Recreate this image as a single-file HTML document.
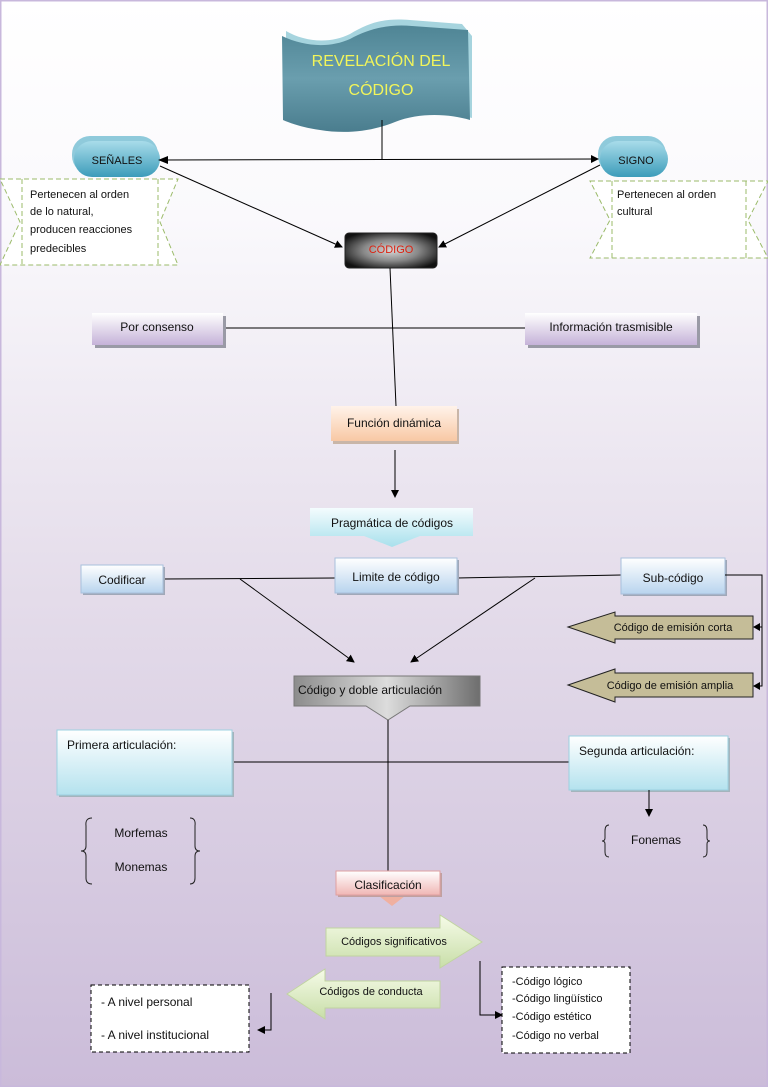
<!DOCTYPE html>
<html><head><meta charset="utf-8"><style>
html,body{margin:0;padding:0}
body{width:768px;height:1087px;overflow:hidden;font-family:"Liberation Sans",sans-serif}
svg text{font-family:"Liberation Sans",sans-serif}
</style></head><body>
<svg width="768" height="1087" viewBox="0 0 768 1087" xmlns="http://www.w3.org/2000/svg">
<defs>
<linearGradient id="bg" x1="0" y1="0" x2="0" y2="1">
<stop offset="0" stop-color="#ffffff"/><stop offset="0.2" stop-color="#faf9fc"/><stop offset="0.55" stop-color="#e4dcea"/><stop offset="1" stop-color="#cbbcd9"/></linearGradient>
<linearGradient id="ban" x1="0" y1="0" x2="0" y2="1"><stop offset="0" stop-color="#4f8595"/><stop offset="0.5" stop-color="#6a9eae"/><stop offset="1" stop-color="#4a7d8e"/></linearGradient>
<linearGradient id="pill" x1="0" y1="0" x2="0" y2="1"><stop offset="0" stop-color="#a8dcea"/><stop offset="1" stop-color="#3c9cba"/></linearGradient>
<radialGradient id="blk" cx="0.5" cy="0.5" r="0.6"><stop offset="0" stop-color="#d8d8d8"/><stop offset="0.5" stop-color="#888"/><stop offset="1" stop-color="#111"/></radialGradient>
<linearGradient id="pur" x1="0" y1="0" x2="0" y2="1"><stop offset="0" stop-color="#ffffff"/><stop offset="1" stop-color="#c5b2d8"/></linearGradient>
<linearGradient id="peach" x1="0" y1="0" x2="0" y2="1"><stop offset="0" stop-color="#fff3ea"/><stop offset="1" stop-color="#f8c8a4"/></linearGradient>
<linearGradient id="cyan" x1="0" y1="0" x2="0" y2="1"><stop offset="0" stop-color="#f4fcfe"/><stop offset="1" stop-color="#a8e0ec"/></linearGradient>
<linearGradient id="blu" x1="0" y1="0" x2="0" y2="1"><stop offset="0" stop-color="#ffffff"/><stop offset="1" stop-color="#b8d4ee"/></linearGradient>
<linearGradient id="gry" x1="0" y1="0" x2="1" y2="0"><stop offset="0" stop-color="#8c8c8c"/><stop offset="0.5" stop-color="#dcdcdc"/><stop offset="1" stop-color="#6e6e6e"/></linearGradient>
<linearGradient id="lb" x1="0" y1="0" x2="0" y2="1"><stop offset="0" stop-color="#ffffff"/><stop offset="1" stop-color="#b4e2ee"/></linearGradient>
<linearGradient id="pink" x1="0" y1="0" x2="0" y2="1"><stop offset="0" stop-color="#ffffff"/><stop offset="1" stop-color="#f0b6b4"/></linearGradient>
<linearGradient id="grn" x1="0" y1="0" x2="0" y2="1"><stop offset="0" stop-color="#f6fbe8"/><stop offset="1" stop-color="#c8dea8"/></linearGradient>
<marker id="ar" markerWidth="8" markerHeight="8" refX="7" refY="4" orient="auto" markerUnits="userSpaceOnUse"><path d="M0,0 L8,4 L0,8 z" fill="#000"/></marker>
</defs>
<rect x="0" y="0" width="768" height="1087" fill="url(#bg)"/>
<rect x="0.5" y="0.5" width="767" height="1086" fill="none" stroke="#c8b8dc" stroke-width="2"/>

<path d="M286,31 C305,42 330,44 350,34 C370,22 385,18 410,20 L462,24 L472,36 L472,118 C450,112 420,108 395,118 C370,128 345,130 320,126 C305,124 292,120 286,118 Z" fill="#a6d4de"/>
<path d="M282,36 C305,47 330,48 350,39 C370,28 390,24 412,26 L468,30 L470,120 C450,114 420,112 395,122 C370,132 345,134 320,130 C305,128 292,124 283,120 Z" fill="url(#ban)"/>
<text x="381" y="66" font-size="16" fill="#f2f55a" text-anchor="middle">REVELACIÓN DEL</text>
<text x="381" y="95" font-size="16" fill="#f2f55a" text-anchor="middle">CÓDIGO</text>
<line x1="382" y1="120" x2="382" y2="160" stroke="#000"/>

<rect x="72" y="136" width="86" height="38" rx="18" fill="#8fcadb"/>
<rect x="74" y="141" width="86" height="36" rx="18" fill="url(#pill)"/>
<text x="117" y="164" font-size="11" fill="#111" text-anchor="middle">SEÑALES</text>
<rect x="598" y="136" width="68" height="38" rx="18" fill="#8fcadb"/>
<rect x="600" y="141" width="68" height="36" rx="18" fill="url(#pill)"/>
<text x="636" y="164" font-size="11" fill="#111" text-anchor="middle">SIGNO</text>
<line x1="162" y1="160" x2="598" y2="159" stroke="#000" marker-end="url(#ar)"/>
<path d="M158,160 L168,156 L168,164 z" fill="#000"/>

<g fill="none" stroke="#9bbb6a" stroke-dasharray="5,3">
<path d="M0,179 L178,179 L160,222 L178,265 L0,265 L20,222 Z" fill="#fff"/>
<line x1="22" y1="179" x2="22" y2="265"/><line x1="158" y1="179" x2="158" y2="265"/>
<path d="M590,181 L768,181 L748,220 L768,258 L590,258 L610,220 Z" fill="#fff"/>
<line x1="612" y1="181" x2="612" y2="258"/><line x1="746" y1="181" x2="746" y2="258"/>
</g>
<g font-size="11" fill="#111">
<text x="30" y="198">Pertenecen al orden</text>
<text x="30" y="215">de lo natural,</text>
<text x="30" y="233">producen reacciones</text>
<text x="30" y="252">predecibles</text>
<text x="617" y="198">Pertenecen al orden</text>
<text x="617" y="215">cultural</text>
</g>

<line x1="160" y1="166" x2="342" y2="247" stroke="#000" marker-end="url(#ar)"/>
<line x1="600" y1="165" x2="439" y2="247" stroke="#000" marker-end="url(#ar)"/>
<rect x="345" y="233" width="92" height="35" rx="4" fill="url(#blk)" stroke="#222"/>
<text x="391" y="253" font-size="11" fill="#d21" text-anchor="middle">CÓDIGO</text>
<line x1="390" y1="268" x2="396" y2="406" stroke="#000"/>

<line x1="223" y1="328" x2="525" y2="328" stroke="#000"/>
<rect x="95" y="316" width="131" height="32" fill="#9a9aa6"/>
<rect x="92" y="313" width="131" height="32" fill="url(#pur)"/>
<text x="157" y="331" font-size="12" fill="#111" text-anchor="middle">Por consenso</text>
<rect x="528" y="316" width="172" height="32" fill="#9a9aa6"/>
<rect x="525" y="313" width="172" height="32" fill="url(#pur)"/>
<text x="611" y="331" font-size="12" fill="#111" text-anchor="middle">Información trasmisible</text>

<rect x="333" y="409" width="126" height="35" fill="#c9b6a8"/>
<rect x="331" y="406" width="126" height="35" fill="url(#peach)"/>
<text x="394" y="427" font-size="12" fill="#111" text-anchor="middle">Función dinámica</text>
<line x1="395" y1="450" x2="395" y2="497" stroke="#000" marker-end="url(#ar)"/>

<path d="M310,508 L473,508 L473,536 L420,536 L392,547 L364,536 L310,536 Z" fill="url(#cyan)"/>
<text x="392" y="527" font-size="12" fill="#111" text-anchor="middle">Pragmática de códigos</text>

<line x1="163" y1="579" x2="335" y2="578" stroke="#000"/>
<line x1="457" y1="578" x2="621" y2="575" stroke="#000"/>
<line x1="240" y1="579" x2="354" y2="662" stroke="#000" marker-end="url(#ar)"/>
<line x1="535" y1="578" x2="411" y2="662" stroke="#000" marker-end="url(#ar)"/>
<rect x="83" y="567" width="82" height="28" fill="#a0a8b8"/>
<rect x="81" y="565" width="82" height="28" fill="url(#blu)" stroke="#a8c0dc"/>
<text x="122" y="584" font-size="12" fill="#111" text-anchor="middle">Codificar</text>
<rect x="337" y="560" width="122" height="35" fill="#a0a8b8"/>
<rect x="335" y="558" width="122" height="35" fill="url(#blu)" stroke="#a8c0dc"/>
<text x="396" y="581" font-size="12" fill="#111" text-anchor="middle">Limite de código</text>
<rect x="623" y="560" width="104" height="36" fill="#a0a8b8"/>
<rect x="621" y="558" width="104" height="36" fill="url(#blu)" stroke="#a8c0dc"/>
<text x="673" y="582" font-size="12" fill="#111" text-anchor="middle">Sub-código</text>
<polyline points="725,575 762,575 762,686 755,686" fill="none" stroke="#000"/>
<line x1="762" y1="627" x2="755" y2="627" stroke="#000"/>
<path d="M753,627 L760,623 L760,631 z" fill="#000"/>
<path d="M753,686 L760,682 L760,690 z" fill="#000"/>

<path d="M568,627 L615,612 L615,616 L753,616 L753,639 L615,639 L615,643 Z" fill="#c5bd98" stroke="#222"/>
<text x="673" y="631" font-size="11" fill="#111" text-anchor="middle">Código de emisión corta</text>
<path d="M568,685 L615,669 L615,673 L753,673 L753,697 L615,697 L615,702 Z" fill="#c5bd98" stroke="#222"/>
<text x="670" y="689" font-size="11" fill="#111" text-anchor="middle">Código de emisión amplia</text>

<path d="M294,676 L480,676 L480,706 L410,706 L388,720 L366,706 L294,706 Z" fill="url(#gry)" stroke="#777"/>
<text x="370" y="694" font-size="12" fill="#111" text-anchor="middle">Código y doble articulación</text>

<line x1="388" y1="720" x2="388" y2="873" stroke="#000"/>
<line x1="232" y1="762" x2="569" y2="762" stroke="#000"/>
<rect x="59" y="732" width="175" height="65" fill="#a4b4bc"/>
<rect x="57" y="730" width="175" height="65" fill="url(#lb)" stroke="#9cd0e0"/>
<text x="67" y="749" font-size="12" fill="#111">Primera articulación:</text>
<rect x="571" y="738" width="159" height="54" fill="#a4b4bc"/>
<rect x="569" y="736" width="159" height="54" fill="url(#lb)" stroke="#9cd0e0"/>
<text x="579" y="755" font-size="12" fill="#111">Segunda articulación:</text>
<line x1="649" y1="790" x2="649" y2="816" stroke="#000" marker-end="url(#ar)"/>

<g fill="none" stroke="#222">
<path d="M92,818 Q85,818 86,826 L86,846 Q86,851 81,851 Q86,851 86,856 L86,878 Q86,884 92,884"/>
<path d="M190,818 Q196,818 195,826 L195,846 Q195,851 200,851 Q195,851 195,856 L195,878 Q195,884 190,884"/>
<path d="M609,825 Q605,825 605,831 L605,838 Q605,841 602,841 Q605,841 605,844 L605,852 Q605,857 609,857"/>
<path d="M703,825 Q707,825 707,831 L707,838 Q707,841 710,841 Q707,841 707,844 L707,852 Q707,857 703,857"/>
</g>
<g font-size="12" fill="#111" text-anchor="middle">
<text x="141" y="837">Morfemas</text>
<text x="141" y="871">Monemas</text>
<text x="656" y="844">Fonemas</text>
</g>

<path d="M396,896 L405,896 L392,906 L379,896 Z" fill="#f0b0a0"/>
<rect x="338" y="873" width="104" height="24" fill="#c0a0a0"/>
<rect x="336" y="871" width="104" height="24" fill="url(#pink)" stroke="#e0a0a0"/>
<text x="388" y="889" font-size="12" fill="#111" text-anchor="middle">Clasificación</text>

<path d="M326,928 L440,928 L440,915 L482,942 L440,968 L440,956 L326,956 Z" fill="url(#grn)" stroke="#c0d4a0"/>
<text x="394" y="945" font-size="11" fill="#111" text-anchor="middle">Códigos significativos</text>
<path d="M287,994 L325,969 L325,981 L440,981 L440,1008 L325,1008 L325,1019 Z" fill="url(#grn)" stroke="#c0d4a0"/>
<text x="371" y="995" font-size="11" fill="#111" text-anchor="middle">Códigos de conducta</text>

<polyline points="480,961 480,1015 497,1015" fill="none" stroke="#000"/>
<path d="M503,1015 L495,1011 L495,1019 z" fill="#000"/>
<polyline points="271,993 271,1030 263,1030" fill="none" stroke="#000"/>
<path d="M257,1030 L265,1026 L265,1034 z" fill="#000"/>

<rect x="502" y="967" width="128" height="86" fill="#fff" stroke="#000" stroke-dasharray="4,3"/>
<g font-size="11" fill="#111">
<text x="512" y="985">-Código lógico</text>
<text x="512" y="1002">-Código lingüístico</text>
<text x="512" y="1020">-Código estético</text>
<text x="512" y="1039">-Código no verbal</text>
</g>
<rect x="91" y="985" width="158" height="67" fill="#fff" stroke="#000" stroke-dasharray="4,3"/>
<g font-size="12" fill="#111">
<text x="101" y="1006">-  A nivel personal</text>
<text x="101" y="1039">- A nivel institucional</text>
</g>
</svg>
</body></html>
